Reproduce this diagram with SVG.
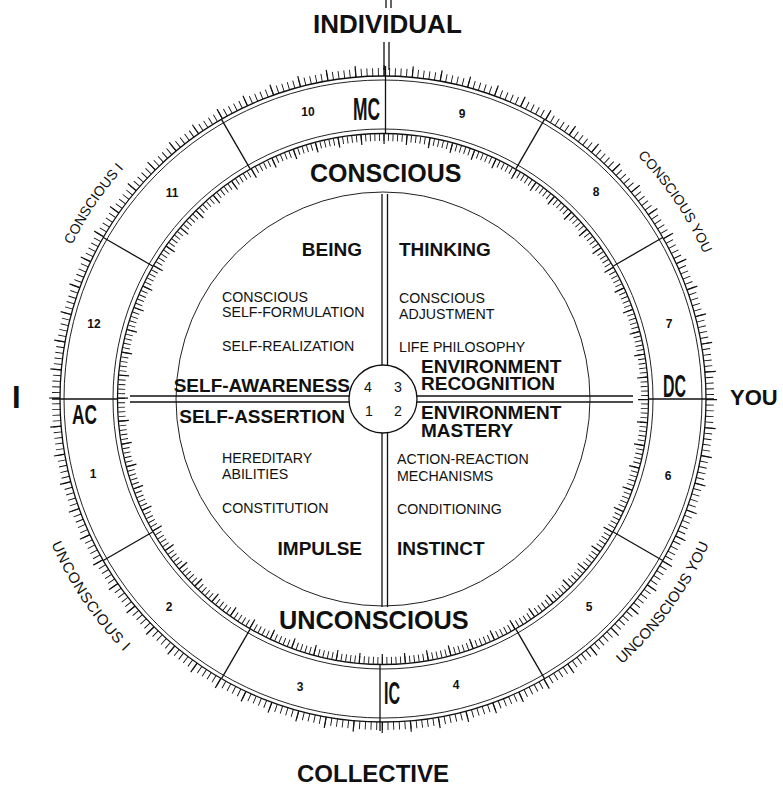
<svg xmlns="http://www.w3.org/2000/svg" width="783" height="801" viewBox="0 0 783 801">
<style>
  .ln{fill:none;stroke:#111;stroke-width:1.3}
  .thin{fill:none;stroke:#222;stroke-width:1}
  .tk{fill:none;stroke:#111}
  .big{font-family:"Liberation Sans",Arial,sans-serif;font-weight:bold;fill:#111}
  .hd{font-family:"Liberation Sans",Arial,sans-serif;font-weight:bold;font-size:19px;fill:#111}
  .sm{font-family:"Liberation Sans",Arial,sans-serif;font-size:14.2px;fill:#111}
  .num{font-family:"Liberation Sans",Arial,sans-serif;font-weight:bold;font-size:12px;fill:#111;text-anchor:middle}
  .ang{font-family:"Liberation Sans",Arial,sans-serif;font-weight:bold;fill:#111}
  .arc{font-family:"Liberation Sans",Arial,sans-serif;font-size:14px;fill:#111}
  .arcb{font-family:"Liberation Sans",Arial,sans-serif;font-size:15px;fill:#111}
</style>
<defs>
  <path id="pCI" d="M40.3,344.7 A347,347 0 0 1 204.3,101.6"/>
  <path id="pCY" d="M564.3,97.3 A352,352 0 0 1 730.7,343.9"/>
  <path id="pUI" d="M25.5,455.6 A362,362 0 0 0 196.6,709.3"/>
  <path id="pUY" d="M556.1,711.2 A357,357 0 0 0 733.4,467.1"/>
</defs>
<rect width="783" height="801" fill="#fff"/>

<g id="wheel">
  <circle class="ln" cx="383" cy="399" r="323" stroke-width="1.6"/>
  <circle class="thin" cx="383" cy="399" r="319"/>
  <circle class="tk" cx="383" cy="399" r="327" stroke-width="8" stroke-dasharray="0.9 4.807"/>
  <circle class="tk" cx="383" cy="399" r="328.5" stroke-width="11" stroke-dasharray="1.2 27.466"/>
  <circle class="thin" cx="383" cy="399" r="270"/>
  <circle class="ln" cx="383" cy="399" r="265.5" stroke-width="1.5"/>
  <circle class="tk" cx="383" cy="399" r="261.5" stroke-width="7" stroke-dasharray="0.9 3.664"/>
  <circle class="tk" cx="383" cy="399" r="260" stroke-width="10" stroke-dasharray="1.2 21.489"/>
  <circle class="thin" cx="383" cy="399" r="207"/>
</g>

<g id="connectors">
  <line class="ln" x1="613.4" y1="266" x2="662.7" y2="237.5"/>
  <line class="ln" x1="516" y1="168.6" x2="544.5" y2="119.3"/>
  <line class="ln" x1="250" y1="168.6" x2="221.5" y2="119.3"/>
  <line class="ln" x1="152.6" y1="266" x2="103.3" y2="237.5"/>
  <line class="ln" x1="152.6" y1="532" x2="103.3" y2="560.5"/>
  <line class="ln" x1="250" y1="629.4" x2="221.5" y2="678.7"/>
  <line class="ln" x1="516" y1="629.4" x2="544.5" y2="678.7"/>
  <line class="ln" x1="613.4" y1="532" x2="662.7" y2="560.5"/>
  <line class="ln" x1="52" y1="399" x2="117" y2="399" stroke-width="1.8"/>
  <line class="ln" x1="649" y1="399" x2="714" y2="399" stroke-width="1.8"/>
  <line class="ln" x1="385.5" y1="66" x2="385.5" y2="134" stroke-width="1.8"/>
  <line class="ln" x1="380" y1="664" x2="380" y2="731" stroke-width="1.8"/>
  <line class="ln" x1="384" y1="42" x2="384" y2="70"/>
  <line class="ln" x1="389" y1="42" x2="389" y2="70"/>
  <line class="ln" x1="386" y1="0" x2="386" y2="8"/>
  <line class="ln" x1="391" y1="0" x2="391" y2="8"/>
  <line class="ln" x1="130" y1="396" x2="350" y2="396"/>
  <line class="ln" x1="130" y1="402" x2="350" y2="402"/>
  <line class="ln" x1="416" y1="396" x2="633" y2="396"/>
  <line class="ln" x1="416" y1="402" x2="633" y2="402"/>
  <line class="ln" x1="382" y1="194" x2="382" y2="366"/>
  <line class="ln" x1="387.5" y1="194" x2="387.5" y2="366"/>
  <line class="ln" x1="382" y1="432" x2="382" y2="607"/>
  <line class="ln" x1="387.5" y1="432" x2="387.5" y2="607"/>
</g>

<g id="center">
  <circle cx="383" cy="399" r="34" fill="#fff" stroke="#111" stroke-width="1.3"/>
  <text class="sm" x="368" y="392" font-size="11" text-anchor="middle">4</text>
  <text class="sm" x="398" y="392" font-size="11" text-anchor="middle">3</text>
  <text class="sm" x="369" y="416" font-size="11" text-anchor="middle">1</text>
  <text class="sm" x="398" y="416" font-size="11" text-anchor="middle">2</text>
</g>

<g id="axes">
  <text class="big" x="313" y="33" font-size="26">INDIVIDUAL</text>
  <text class="big" x="12" y="408" font-size="31">I</text>
  <text class="big" x="730" y="405" font-size="22">YOU</text>
  <text class="big" x="297" y="782" font-size="24">COLLECTIVE</text>
</g>

<g id="angles">
  <text class="ang" x="353" y="120" font-size="32" textLength="27" lengthAdjust="spacingAndGlyphs">MC</text>
  <text class="ang" x="72" y="424" font-size="28" textLength="25" lengthAdjust="spacingAndGlyphs">AC</text>
  <text class="ang" x="663" y="397" font-size="32" textLength="23" lengthAdjust="spacingAndGlyphs">DC</text>
  <text class="ang" x="384" y="704" font-size="31" textLength="16" lengthAdjust="spacingAndGlyphs">IC</text>
</g>

<g id="houses">
  <text class="num" x="308" y="116">10</text>
  <text class="num" x="462" y="118">9</text>
  <text class="num" x="172" y="197">11</text>
  <text class="num" x="596" y="196">8</text>
  <text class="num" x="94" y="328">12</text>
  <text class="num" x="669" y="328">7</text>
  <text class="num" x="93" y="478">1</text>
  <text class="num" x="668" y="480">6</text>
  <text class="num" x="169" y="611">2</text>
  <text class="num" x="589" y="611">5</text>
  <text class="num" x="300" y="691">3</text>
  <text class="num" x="456" y="689">4</text>
</g>

<g id="hemispheres">
  <text class="big" x="310" y="182" font-size="25">CONSCIOUS</text>
  <text class="big" x="279" y="629" font-size="25.3">UNCONSCIOUS</text>
</g>

<g id="outer-labels">
  <text class="arc"><textPath href="#pCI" startOffset="50%" text-anchor="middle">CONSCIOUS I</textPath></text>
  <text class="arc"><textPath href="#pCY" startOffset="50%" text-anchor="middle">CONSCIOUS YOU</textPath></text>
  <text class="arcb" letter-spacing="0.8"><textPath href="#pUI" startOffset="50%" text-anchor="middle">UNCONSCIOUS I</textPath></text>
  <text class="arcb"><textPath href="#pUY" startOffset="50%" text-anchor="middle">UNCONSCIOUS YOU</textPath></text>
</g>

<g id="quadrant-4">
  <text class="hd" x="362" y="256" text-anchor="end" font-size="18">BEING</text>
  <text class="sm" x="222" y="302">CONSCIOUS</text>
  <text class="sm" x="222" y="317">SELF-FORMULATION</text>
  <text class="sm" x="222" y="351">SELF-REALIZATION</text>
  <text class="hd" x="350" y="392" text-anchor="end" font-size="18.5">SELF-AWARENESS</text>
</g>

<g id="quadrant-3">
  <text class="hd" x="399" y="256">THINKING</text>
  <text class="sm" x="399" y="303">CONSCIOUS</text>
  <text class="sm" x="399" y="319">ADJUSTMENT</text>
  <text class="sm" x="399" y="352">LIFE PHILOSOPHY</text>
  <text class="hd" x="421" y="373" font-size="18.8">ENVIRONMENT</text>
  <text class="hd" x="421" y="390" font-size="18.8">RECOGNITION</text>
</g>

<g id="quadrant-1">
  <text class="hd" x="345" y="423" text-anchor="end" font-size="18.4">SELF-ASSERTION</text>
  <text class="sm" x="222" y="463">HEREDITARY</text>
  <text class="sm" x="222" y="479">ABILITIES</text>
  <text class="sm" x="222" y="513">CONSTITUTION</text>
  <text class="hd" x="362" y="555" text-anchor="end">IMPULSE</text>
</g>

<g id="quadrant-2">
  <text class="hd" x="421" y="419" font-size="18.8">ENVIRONMENT</text>
  <text class="hd" x="421" y="437" font-size="18.8">MASTERY</text>
  <text class="sm" x="397" y="464">ACTION-REACTION</text>
  <text class="sm" x="397" y="481">MECHANISMS</text>
  <text class="sm" x="397" y="514">CONDITIONING</text>
  <text class="hd" x="397" y="555">INSTINCT</text>
</g>
</svg>
